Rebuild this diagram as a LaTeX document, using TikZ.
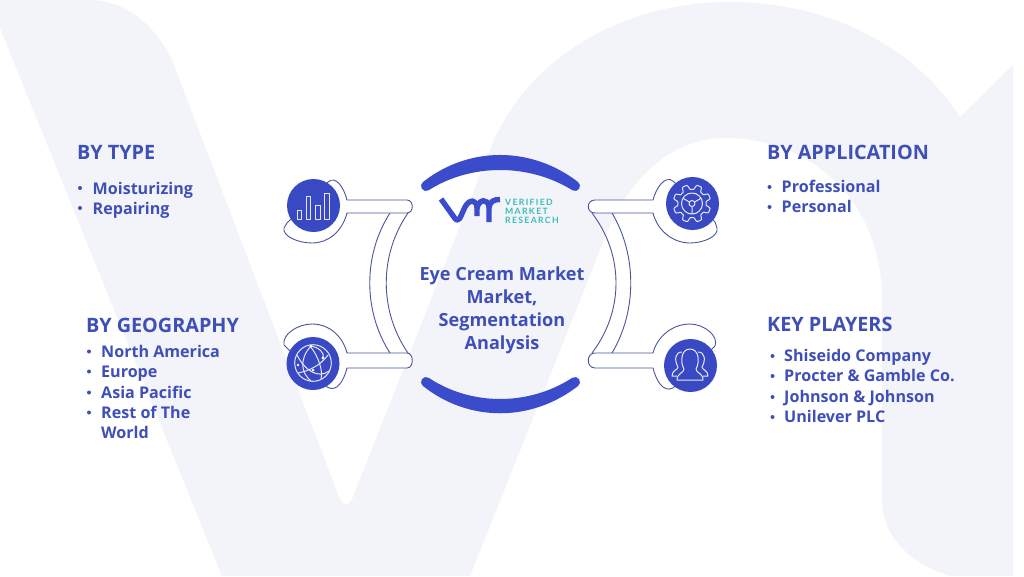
\documentclass[tikz,border=0pt]{standalone}
\usepackage{fontspec}
\setmainfont{Open Sans}
\newfontfamily\logofont[LetterSpace=15]{Lato}
\usetikzlibrary{calc}
\definecolor{pale}{HTML}{F2F4FA}
\definecolor{inkblue}{HTML}{3F4FB8}
\definecolor{disc}{HTML}{3949C4}
\definecolor{arcblue}{HTML}{3A4CCB}
\definecolor{wire}{HTML}{4A5598}
\definecolor{teal}{HTML}{3DBDB6}
\tikzset{
  x=1pt,y=-1pt,
  head/.style={anchor=base west,inner sep=0pt,text=inkblue,font=\fontsize{19.8}{20}\selectfont\bfseries},
  item/.style={anchor=base west,inner sep=0pt,text=inkblue,font=\fontsize{16.1}{20}\selectfont\bfseries},
  bul/.style={circle,fill=inkblue,inner sep=0pt,minimum size=4pt},
  title/.style={anchor=base,inner sep=0pt,text=inkblue,font=\fontsize{18.1}{20}\selectfont\bfseries},
  disk/.style={circle,fill=disc,inner sep=0pt,minimum size=53pt},
  tube/.style={draw=wire,line width=.9pt,fill=white,line join=round},
  wireline/.style={draw=wire,line width=.9pt},
  ico/.style={draw=white!88!disc,line width=1pt,line join=round},
  crescent/.style={fill=arcblue,draw=arcblue,line width=10pt,line join=round},
  logostroke/.style={draw=arcblue,line width=5.4pt},
  logotext/.style={anchor=base west,inner sep=0pt,text=teal,font=\fontsize{8.7}{9}\logofont\bfseries},
}
\begin{document}
\begin{tikzpicture}
\useasboundingbox (0,0) rectangle (1024,576);
\fill[white] (0,0) rectangle (1024,576);
% background monogram
\fill[pale] (0,28) -- (222,576) -- (470,576) -- (585,288) -- (600,250)
  .. controls (625,180) and (670,138) .. (725,138)
  .. controls (810,138) and (882,200) .. (882,300) -- (882,500)
  .. controls (882,540) and (915,565) .. (950,576) -- (1013,576) -- (1013,65) -- (960,117)
  .. controls (910,40) and (820,2) .. (730,2)
  .. controls (620,2) and (525,60) .. (490,150) -- (353,497)
  .. controls (349,507) and (343,507) .. (339,497) -- (172,60)
  .. controls (155,25) and (125,0) .. (90,0) -- (0,0) -- cycle;
% crescents
\path[crescent] (426,186) .. controls (470,151.3) and (530,151.3) .. (575,186)
  .. controls (530,158) and (470,158) .. (426,186) -- cycle;
\path[crescent] (426,382) .. controls (470,411.3) and (530,411.3) .. (575,382)
  .. controls (530,417) and (470,417) .. (426,382) -- cycle;
% brackets
\draw[wireline] (390,213) .. controls (363,255) and (363,311) .. (390,353);
\draw[wireline] (408,213) .. controls (379,255) and (379,311) .. (408,353);
\draw[wireline] (592,213) .. controls (624,255) and (624,311) .. (592,353);
\draw[wireline] (612,213) .. controls (637,255) and (637,311) .. (612,353);
% arms with rings
\path[tube] (328,182) .. controls (336,175) and (344,188) .. (347,200) -- (407,200)
  .. controls (414,200) and (414,213) .. (407,213) -- (347,213)
  .. controls (342,232) and (328,243) .. (312,243)
  .. controls (298,243) and (282,236) .. (284,228) -- (287,223) -- cycle;
\path[tube] (284,345) .. controls (282,334) and (298,324) .. (312,324)
  .. controls (330,324) and (343,337) .. (347,353) -- (407,353)
  .. controls (414,353) and (414,368) .. (407,368) -- (347,368)
  .. controls (344,380) and (337,393) .. (327,387) -- cycle;
\path[tube] (673,181) .. controls (665,175) and (656,188) .. (653,200) -- (595,200)
  .. controls (586,200) and (586,213) .. (595,213) -- (653,213)
  .. controls (658,232) and (674,243) .. (690,243)
  .. controls (704,243) and (719,236) .. (717,228) -- (715,222) -- cycle;
\path[tube] (715,346) .. controls (719,336) and (704,324) .. (690,324)
  .. controls (672,324) and (657,337) .. (653,353) -- (595,353)
  .. controls (586,353) and (586,368) .. (595,368) -- (653,368)
  .. controls (656,380) and (663,393) .. (673,388) -- cycle;
% discs
\node[disk] (dtype) at (313.5,205.5) {};
\node[disk] (dgeo) at (313,363.5) {};
\node[disk] (dapp) at (692.5,203.5) {};
\node[disk] (dkey) at (690.5,365.5) {};
% bars icon
\draw[ico] (297,210) rectangle (301,219.3) (306,196) rectangle (310.7,219.3)
  (315.7,205) rectangle (320,219.3) (324.3,193.3) rectangle (329.3,219.3);
% globe icon
\begin{scope}[shift={(313,363)}]
  \draw[ico] (0,0) circle (18.3);
  \draw[ico] (-16,-8) .. controls (-8,8) and (6,16) .. (16,8);
  \draw[ico] (-2,-17) .. controls (-14,-4) and (-12,10) .. (-2,18);
  \draw[ico] (-15,10) .. controls (-4,8) and (8,2) .. (15,-8);
  \draw[ico] (-3,-17) .. controls (6,-6) and (10,8) .. (8,16);
  \draw[ico] (-3,-17) .. controls (6,-16) and (12,-10) .. (10,-5) ;
  \fill[white] (-2,-17) circle (1.5) (10,-5) circle (1.7) (0,7) circle (1.5) (-15,2) circle (1.3);
\end{scope}
% gear icon
\begin{scope}[shift={(692,203.5)}]
  \draw[ico] plot[domain=0:360,samples=145,smooth] (\x+11:{16.5+2.3*max(-1,min(1,2.2*sin(8*\x))))});
  \draw[ico] (0,0) circle (10.5);
  \draw[ico] (0,0) circle (3);
  \draw[ico] (-2.6,-1.5) -- (-9,-5.2) (2.6,-1.5) -- (9,-5.2) (0,3) -- (0,10.5);
\end{scope}
% people icon
\draw[ico] (677,380) -- (703,380) .. controls (703,373) and (696,373) .. (696,369)
  .. controls (700,362) and (699,349) .. (690,349) .. controls (681,349) and (680,362) .. (684,369)
  .. controls (684,373) and (677,373) .. (677,380) -- cycle;
\draw[ico] (677,376) -- (672,376) .. controls (672,370) and (678,370) .. (678,367)
  .. controls (674,360) and (675,352) .. (682,352);
\draw[ico] (703,376) -- (708,376) .. controls (708,370) and (702,370) .. (702,367)
  .. controls (706,360) and (705,352) .. (698,352);
% logo
\draw[logostroke,line join=round] (441,199) -- (455,218.5) .. controls (457,221) and (459,220) .. (460,218) -- (465,207)
  .. controls (470,198) and (477,200) .. (477,208) -- (477,216);
\draw[logostroke] (477,208) .. controls (479,199) and (488,198) .. (489,207) -- (489,222);
\draw[logostroke] (489,208) .. controls (490,201) and (494,199.5) .. (500,199.5);
\node[logotext] (lg1) at (505,205) {VERIFIED};
\node[logotext] (lg2) at (505,214) {MARKET};
\node[logotext] (lg3) at (505,223.3) {RESEARCH};
% title
\node[title] (t1) at (502,280) {Eye Cream Market};
\node[title] (t2) at (502,303.3) {Market,};
\node[title] (t3) at (502,326.5) {Segmentation};
\node[title] (t4) at (502,349.8) {Analysis};
% BY TYPE
\node[head] (h1) at (77,159) {BY TYPE};
\node[item] (a1) at (92.5,194) {Moisturizing};
\node[item] (a2) at (92.5,214.3) {Repairing};
\node[bul] (ba1) at (80,188) {}; \node[bul] (ba2) at (80,208) {};
% BY GEOGRAPHY
\node[head] (h2) at (86,332) {BY GEOGRAPHY};
\node[item] (g1) at (101,357.3) {North America};
\node[item] (g2) at (101,377.5) {Europe};
\node[item] (g3) at (101,398) {Asia Pacific};
\node[item] (g4) at (101,418) {Rest of The};
\node[item] (g5) at (101,438.7) {World};
\node[bul] (bg1) at (89,351.5) {}; \node[bul] (bg2) at (89,371.5) {};
\node[bul] (bg3) at (89,392.5) {}; \node[bul] (bg4) at (89,412.5) {};
% BY APPLICATION
\node[head] (h3) at (767,159) {BY APPLICATION};
\node[item] (p1) at (781.5,192.7) {Professional};
\node[item] (p2) at (781.5,212.7) {Personal};
\node[bul] (bp1) at (769.5,187) {}; \node[bul] (bp2) at (769.5,207) {};
% KEY PLAYERS
\node[head] (h4) at (767,331) {KEY PLAYERS};
\node[item] (k1) at (784,361.3) {Shiseido Company};
\node[item] (k2) at (784,381.7) {Procter \& Gamble Co.};
\node[item] (k3) at (784,402.3) {Johnson \& Johnson};
\node[item] (k4) at (784,422.3) {Unilever PLC};
\node[bul] (bk1) at (772.5,356) {}; \node[bul] (bk2) at (772.5,376) {};
\node[bul] (bk3) at (772.5,397) {}; \node[bul] (bk4) at (772.5,417) {};
\end{tikzpicture}
\end{document}
